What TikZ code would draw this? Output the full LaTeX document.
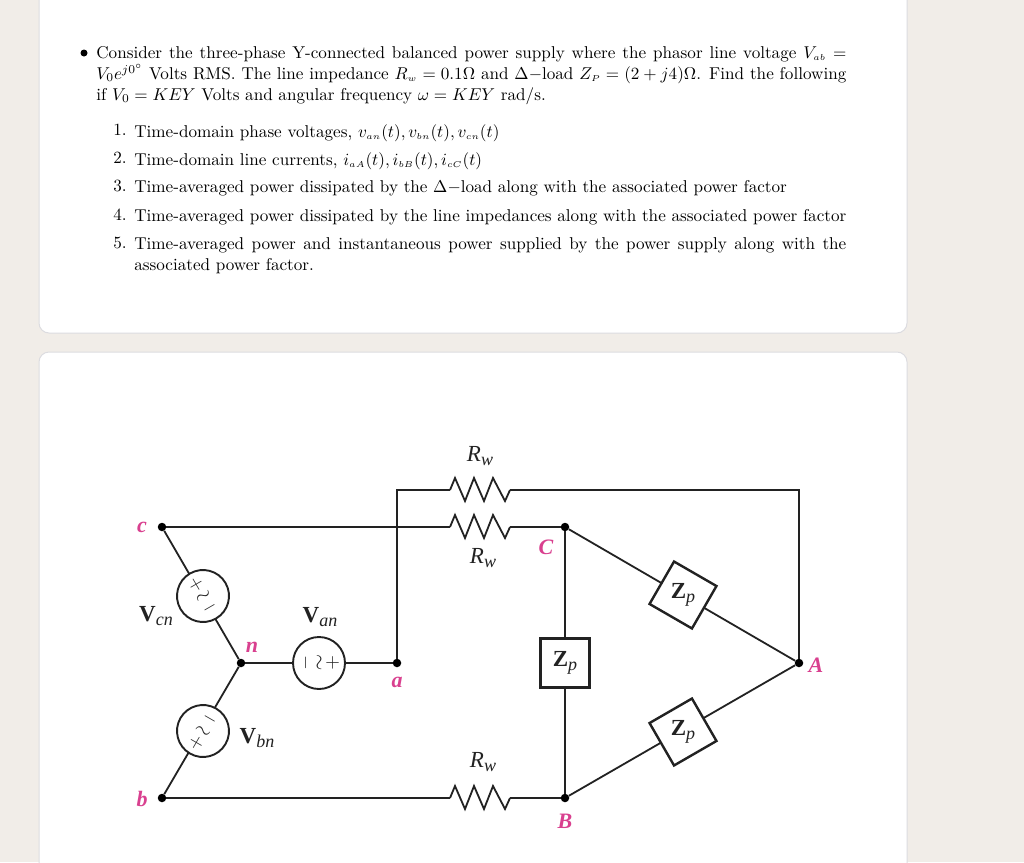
\documentclass[tikz,border=0pt]{standalone}
\usepackage{fix-cm}
\usepackage{fontspec}
\newfontfamily\circfont{Liberation Serif}
\usetikzlibrary{positioning}

\definecolor{pagebg}{HTML}{F1EDE8}
\definecolor{cardedge}{HTML}{DCDCE0}
\definecolor{termpink}{HTML}{D9408F}
\definecolor{inkdark}{HTML}{222222}

\newlength{\srcaxis}
\setlength{\srcaxis}{2.5pt}
\newcommand{\phvolt}[1]{{\bfseries V}\raisebox{-.42ex}{\fontsize{18}{18}\selectfont\itshape #1}}
\newcommand{\zload}{{\bfseries Z}\raisebox{-.42ex}{\fontsize{18}{18}\selectfont\itshape p}}
\newcommand{\rline}{{\itshape R}\raisebox{-.42ex}{\fontsize{18}{18}\selectfont\itshape w}}
\newcommand{\srcglyph}[2]{\smash{\raisebox{-#1\srcaxis}{\scalebox{#1}{$#2$}}}}
\newcommand{\srcmark}{\srcglyph{1.9}{+}\\\srcglyph{2.1}{\sim}\\\srcglyph{1.9}{-}}
\newcommand{\ssub}[1]{_{\scriptscriptstyle #1}}

\pgfmathsetmacro{\bodyscale}{1.712}
\pgfmathsetmacro{\introwd}{750/\bodyscale}
\pgfmathsetmacro{\itemwd}{712/\bodyscale}

\tikzset{
  card/.style={fill=white, draw=cardedge, line width=1pt, rounded corners=10pt},
  wire/.style={draw=inkdark, line width=1.8pt, line join=miter},
  termdot/.style={circle, fill=black, inner sep=0pt, minimum size=8.5pt},
  termlabel/.style={text=termpink, font=\circfont\bfseries\itshape\fontsize{22}{22}\selectfont, inner sep=0pt},
  circlabel/.style={text=inkdark, font=\circfont\fontsize{23}{23}\selectfont, inner sep=0pt},
  srcnode/.style={circle, draw=inkdark, fill=white, line width=1.9pt, minimum size=52pt, inner sep=0pt,
    align=center, text=inkdark, font=\fontsize{10}{13.5}\selectfont},
  zbox/.style={rectangle, draw=inkdark, fill=white, line width=2.4pt, minimum size=49pt, inner sep=0pt,
    text=inkdark, font=\circfont\fontsize{23}{23}\selectfont},
  bodytext/.style={anchor=north west, inner sep=0pt, text=black, align=justify, scale=\bodyscale,
    font=\fontsize{10}{12.27}\selectfont},
  rwire/.pic={
    \coordinate (-l) at (0,0);
    \coordinate (-r) at (60,0);
    \draw [wire] (-l) -- (5,-12) -- (15,11) -- (24,-12) -- (34,11) -- (43,-12) -- (55,11) -- (-r);
  }
}

\begin{document}
\begin{tikzpicture}[x=1pt, y=-1pt]

    \useasboundingbox (0,0) rectangle (1024,862);
    \fill [pagebg] (0,0) rectangle (1024,862);
    \draw [card] (39,-30) rectangle (907,333);
    \draw [card] (39,352) rectangle (907,900);

    \node (bullet) at (84,53) [circle, fill=black, inner sep=0pt, minimum size=7pt] {};
    \node (intro) at (96,46) [bodytext, text width=\introwd pt]
      {Consider the three-phase Y-connected balanced power supply where the phasor line voltage $V\ssub{ab}=$\linebreak
       $V_0e^{j0^\circ}$ Volts RMS. The line impedance $R\ssub{w}=0.1\Omega$ and $\Delta{-}$load $Z\ssub{P}=(2+j4)\Omega$. Find the following\linebreak
       if $V_0=KEY$ Volts and angular frequency $\omega=KEY$ rad/s.};

    \foreach \k/\ypos/\itemtext in {
        1/124/{Time-domain phase voltages, $v\ssub{an}(t),v\ssub{bn}(t),v\ssub{cn}(t)$},
        2/152/{Time-domain line currents, $i\ssub{aA}(t),i\ssub{bB}(t),i\ssub{cC}(t)$},
        3/180/{Time-averaged power dissipated by the $\Delta{-}$load along with the associated power factor},
        4/209/{Time-averaged power dissipated by the line impedances along with the associated power factor\linebreak},
        5/237/{Time-averaged power and instantaneous power supplied by the power supply along with the\linebreak associated power factor.}}{
      \node (item\k) at (134,\ypos) [bodytext, text width=\itemwd pt] {\itemtext};
      \node (num\k) at (113,\ypos) [bodytext, align=left] {\k.};
    }

    \node (nc) at (162,527) [termdot] {};
    \node (nb) at (162,798) [termdot] {};
    \node (nn) at (241,663) [termdot] {};
    \node (na) at (397,663) [termdot] {};
    \node (nC) at (565,527) [termdot] {};
    \node (nB) at (565,798) [termdot] {};
    \node (nA) at (799,663) [termdot] {};
    \coordinate (tl) at (397,490);
    \coordinate (tr) at (799,490);

    \pic (rwa) at (450,490) {rwire};
    \pic (rwc) at (450,527) {rwire};
    \pic (rwb) at (450,798) {rwire};

    \draw [wire] (na) -- (tl) -- (rwa-l);
    \draw [wire] (rwa-r) -- (tr) -- (nA);
    \draw [wire] (nc) -- (rwc-l);
    \draw [wire] (rwc-r) -- (nC);
    \draw [wire] (nb) -- (rwb-l);
    \draw [wire] (rwb-r) -- (nB);

    \draw [wire] (nn) -- (nc);
    \draw [wire] (nn) -- (nb);
    \draw [wire] (nn) -- (na);
    \draw [wire] (nC) -- (nB);
    \draw [wire] (nC) -- (nA);
    \draw [wire] (nB) -- (nA);

    \node (vcn) at (203,596) [srcnode, rotate=30]  {\srcmark};
    \node (vbn) at (203,731) [srcnode, rotate=150] {\srcmark};
    \node (van) at (319,663) [srcnode, rotate=-90] {\srcmark};

    \node (zcb) at (565,663) [zbox] {\zload};
    \node (zca) at (683,595) [zbox, rotate=-30] {\rotatebox{30}{\zload}};
    \node (zab) at (683,732) [zbox, rotate=30]  {\rotatebox{-30}{\zload}};

    \node (lblc) at (142,527) [termlabel] {c};
    \node (lblb) at (142,799) [termlabel] {b};
    \node (lbln) at (252,647) [termlabel] {n};
    \node (lbla) at (397,682) [termlabel] {a};
    \node (lblC) at (546,547) [termlabel] {C};
    \node (lblB) at (565,821) [termlabel] {B};
    \node (lblA) at (816,665) [termlabel] {A};

    \node (lblvcn) at (156,616) [circlabel] {\phvolt{cn}};
    \node (lblvan) at (320,617) [circlabel] {\phvolt{an}};
    \node (lblvbn) at (257,738) [circlabel] {\phvolt{bn}};
    \node (lblrwa) at (480,456) [circlabel] {\rline};
    \node (lblrwc) at (483,558) [circlabel] {\rline};
    \node (lblrwb) at (483,762) [circlabel] {\rline};

\end{tikzpicture}
\end{document}
